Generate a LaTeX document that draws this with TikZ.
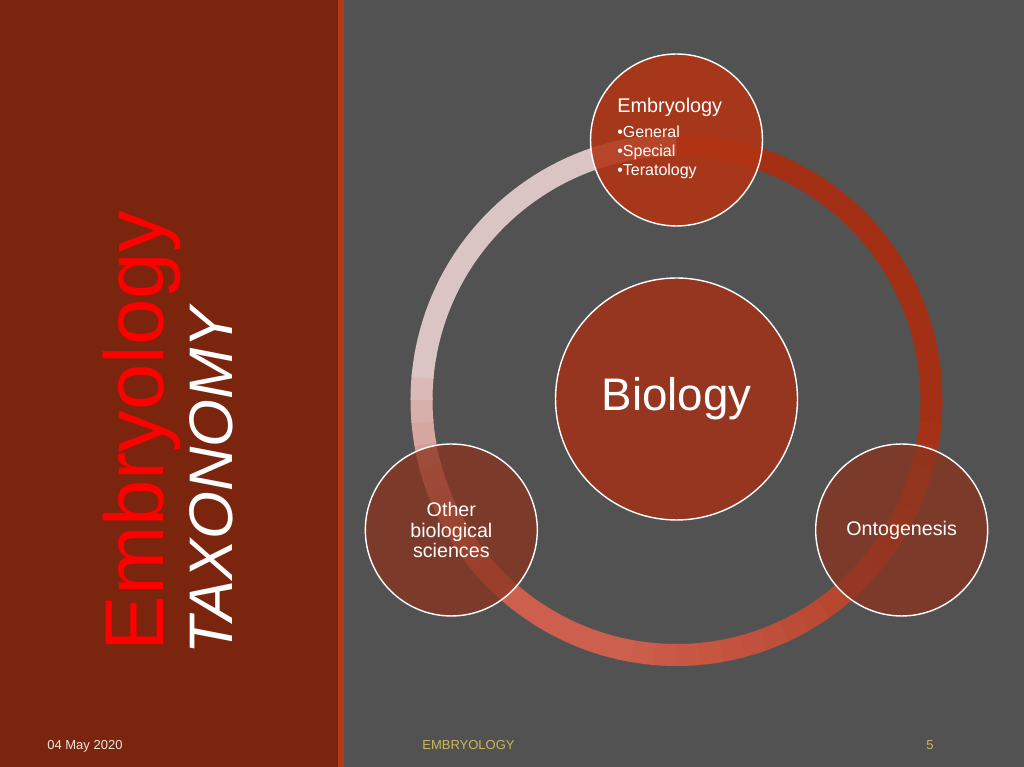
\documentclass[tikz,border=0pt]{standalone}
\usepackage{fontspec}
\setmainfont{Liberation Sans}
\usetikzlibrary{calc}
\definecolor{leftbg}{RGB}{123,36,14}
\definecolor{stripe}{RGB}{181,57,26}
\definecolor{graybg}{RGB}{82,82,82}
\definecolor{ringdark}{RGB}{163,48,20}
\definecolor{ringsalmon}{RGB}{205,95,78}
\definecolor{ringpale}{RGB}{218,196,196}
\definecolor{topfill}{RGB}{178,52,20}
\definecolor{sidefill}{RGB}{139,51,31}
\definecolor{biofill}{RGB}{150,54,33}
\definecolor{titlered}{RGB}{255,0,0}
\definecolor{datecol}{RGB}{240,230,220}
\definecolor{gold}{RGB}{204,184,92}
\tikzset{
  ringline/.style={line width=0.44cm, line cap=butt},
  satellite/.style={circle, draw=white, line width=0.8pt, minimum size=3.44cm,
    inner sep=0pt, text=white, text opacity=1, align=center,
    font=\fontsize{11.2}{11.6}\selectfont},
  footnote/.style={anchor=base west, inner sep=0pt, font=\fontsize{7.4}{9}\selectfont}
}
\begin{document}
\begin{tikzpicture}[x=0.02cm,y=0.02cm]
  \useasboundingbox (0,0) rectangle (1024,767);
  \fill[graybg] (0,0) rectangle (1024,767);
  \fill[leftbg] (0,0) rectangle (338,767);
  \fill[stripe] (338,0) rectangle (344,767);

  \coordinate (ctr) at (676.5,367);
  \draw[ringline, ringdark] ($(ctr)+(90:255)$) arc[start angle=90, end angle=-0.5, radius=5.1cm];
  \foreach \k in {0,...,19} {
    \pgfmathtruncatemacro\p{100-5*\k}
    \pgfmathsetmacro\a{-5*\k}
    \draw[ringline, ringdark!\p!ringsalmon] ($(ctr)+(\a:255)$) arc[start angle=\a, delta angle=-5.5, radius=5.1cm];
  }
  \draw[ringline, ringsalmon] ($(ctr)+(-100:255)$) arc[start angle=-100, end angle=-135.5, radius=5.1cm];
  \foreach \k in {0,...,10} {
    \pgfmathtruncatemacro\p{100-10*\k}
    \pgfmathsetmacro\a{-135-5*\k}
    \draw[ringline, ringsalmon!\p!ringpale] ($(ctr)+(\a:255)$) arc[start angle=\a, delta angle=-5.5, radius=5.1cm];
  }
  \draw[ringline, ringpale] ($(ctr)+(-190:255)$) arc[start angle=-190, end angle=-270, radius=5.1cm];

  \node[satellite, fill=topfill, fill opacity=0.88] (embryo) at ($(ctr)+(90:260)$) {};
  \node[satellite, fill=sidefill, fill opacity=0.75] (other) at ($(ctr)+(210:260)$) {Other\\biological\\sciences};
  \node[satellite, fill=sidefill, fill opacity=0.75] (onto) at ($(ctr)+(-30:260)$) {Ontogenesis};
  \node[circle, draw=white, line width=0.8pt, minimum size=4.84cm, fill=biofill,
    text=white, font=\fontsize{26}{28}\selectfont] (bio) at (676.5,368) {Biology};

  \node[anchor=base west, inner sep=0pt, text=white, font=\fontsize{11.3}{13}\selectfont] (embryohead) at (617,654) {Embryology};
  \node[anchor=north west, inner sep=0pt, text=white, align=left, font=\fontsize{9.1}{10.8}\selectfont] (embryolist) at (617,641)
    {\textbullet General\\\textbullet Special\\\textbullet Teratology};

  \node[rotate=90, anchor=base west, inner sep=0pt, text=titlered, font=\fontsize{47.5}{50}\selectfont] (title) at (163,115) {Embryology};
  \node[rotate=90, anchor=base west, inner sep=0pt, text=white, font=\fontsize{35}{38}\selectfont\itshape] (subtitle) at (232,112) {TAXONOMY};

  \node[footnote, text=datecol] (date) at (47,17) {04 May 2020};
  \node[footnote, text=gold] (footer) at (422,17) {EMBRYOLOGY};
  \node[footnote, text=gold] (pagenum) at (926,17) {5};
\end{tikzpicture}
\end{document}
